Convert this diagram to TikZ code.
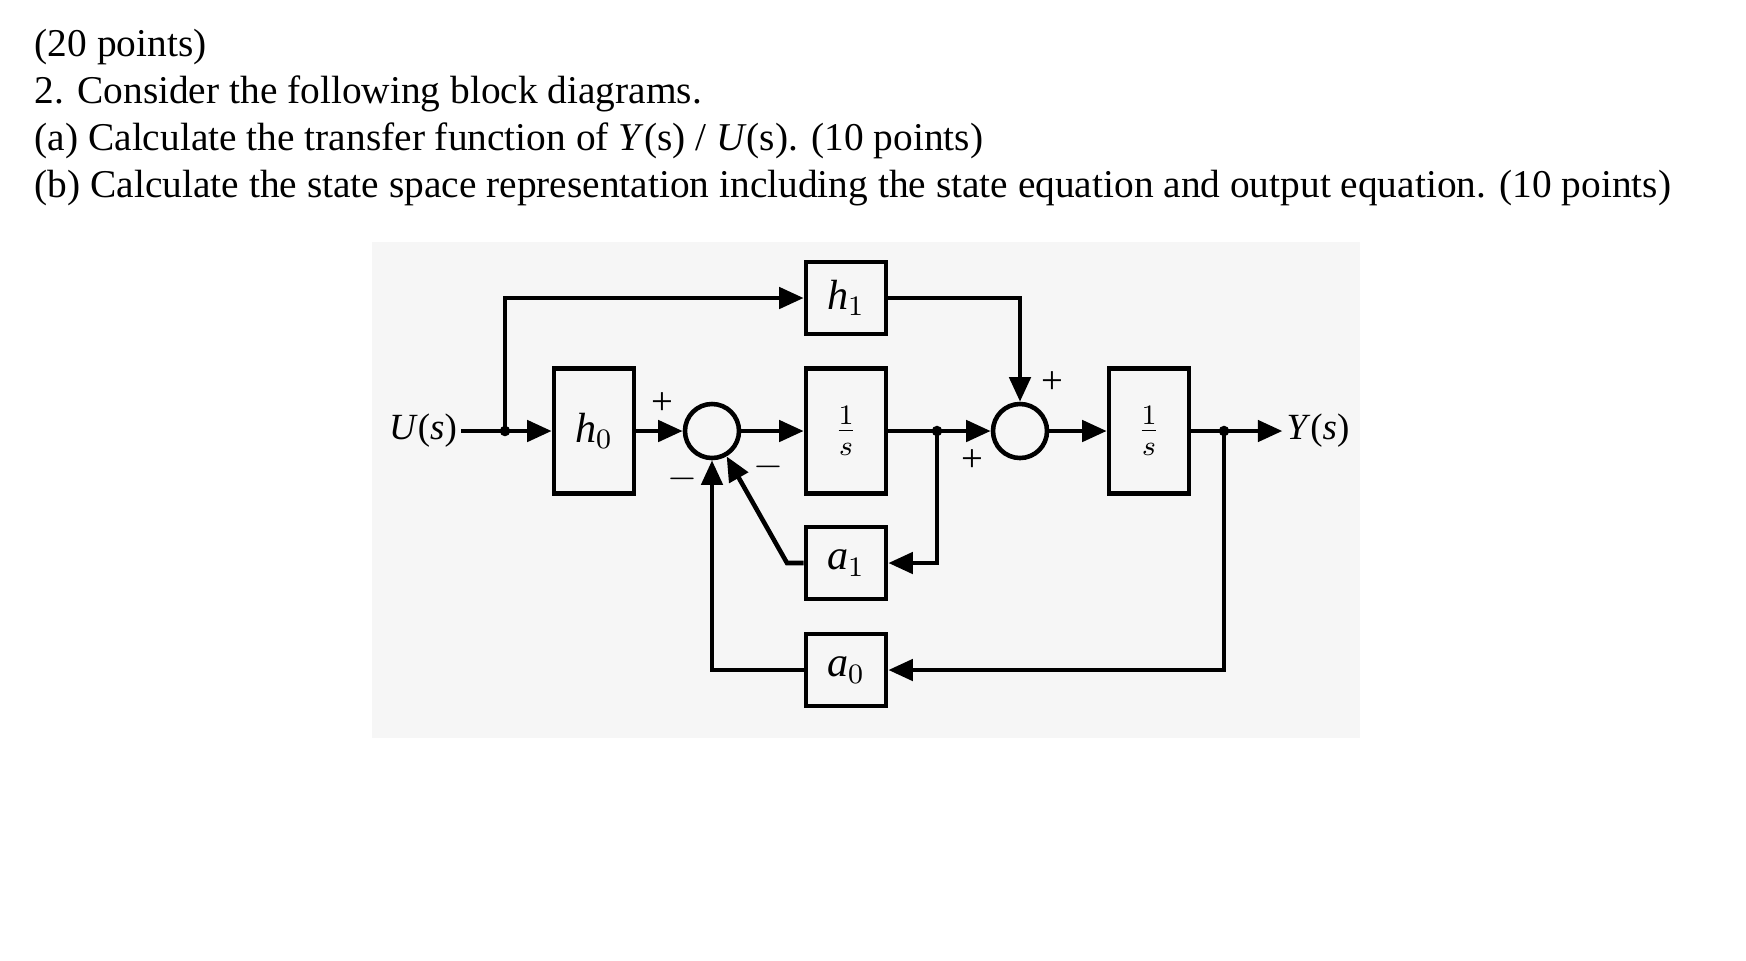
\documentclass[tikz,border=0pt]{standalone}
\usepackage{fontspec}
\setmainfont{Liberation Serif}
\usetikzlibrary{arrows.meta}
\begin{document}
\begin{tikzpicture}[x=0.01cm,y=-0.01cm,
    blk/.style={draw,line width=1.3pt,minimum width=0.8cm,inner sep=0pt,font=\itshape\fontsize{12}{12}\selectfont},
    sum/.style={draw,circle,line width=1.3pt,minimum size=0.54cm,inner sep=0pt},
    sig/.style={font=\fontsize{11}{11}\selectfont,inner sep=0pt},
    lbl/.style={font=\fontsize{10.5}{10.5}\selectfont,inner sep=1pt},
    txt/.style={anchor=west,inner sep=0pt,font=\fontsize{11.2}{11.2}\selectfont},
    ln/.style={line width=1.3pt},
    ar/.style={ln,-{Triangle[length=7pt,width=6pt]}}]
\useasboundingbox (0,0) rectangle (1746,960);
\fill[gray!7] (372,242) rectangle (1360,738);

\node[txt] (t0) at (34,47) {(20 points)};
\node[txt] (t1) at (34,94) {2. Consider the following block diagrams.};
\node[txt] (t2) at (34,141) {(a) Calculate the transfer function of \textit{Y}(s) / \textit{U}(s). (10 points)};
\node[txt] (t3) at (34,188) {(b) Calculate the state space representation including the state equation and output equation. (10 points)};

% blocks
\node[blk,minimum height=0.72cm] (h1) at (846,298) {h$_1$};
\node[blk,minimum height=1.25cm] (h0) at (594,431) {h$_0$};
\node[blk,minimum height=1.25cm] (int1) at (846,431) {$\frac{1}{s}$};
\node[blk,minimum height=1.25cm] (int2) at (1149,431) {$\frac{1}{s}$};
\node[blk,minimum height=0.72cm] (a1) at (846,563) {a$_1$};
\node[blk,minimum height=0.72cm] (a0) at (846,670) {a$_0$};
\node[sum] (s1) at (712,431) {};
\node[sum] (s2) at (1020,431) {};

\node[lbl] (u) at (423,431) {\textit{U}(\textit{s})};
\node[lbl] (y) at (1318,431) {\textit{Y}(\textit{s})};
\coordinate (bu) at (505,431);
\coordinate (bx) at (937,431);
\coordinate (by) at (1224,431);

% signs
\node[sig] (p1) at (662,404) {+};
\node[sig] (m1) at (682,479) {$-$};
\node[sig] (m2) at (768,467) {$-$};
\node[sig] (p2) at (1052,383) {+};
\node[sig] (p3) at (972,461) {+};

% connectors
\draw[ar] (u) -- (h0);
\draw[ar] (bu) |- (h1);
\draw[ar] (h1) -| (s2);
\draw[ar] (h0) -- (s1);
\draw[ar] (s1) -- (int1);
\draw[ar] (int1) -- (s2);
\draw[ar] (s2) -- (int2);
\draw[ar] (int2) -- (y);
\draw[ar] (bx) |- (a1);
\draw[ar] (by) |- (a0);
\draw[ar] (a1.west) -- (787,563) -- (s1.-60);
\draw[ar] (a0) -| (s1);
\fill (bu) circle (1.5pt) (bx) circle (1.5pt) (by) circle (1.5pt);
\end{tikzpicture}
\end{document}
